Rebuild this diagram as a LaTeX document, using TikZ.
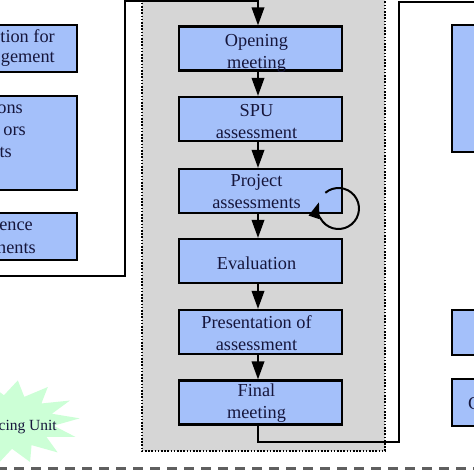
\documentclass[tikz,border=0pt]{standalone}
\usepackage{fontspec}
\setmainfont{Liberation Serif}
\usetikzlibrary{arrows.meta,calc}
\definecolor{boxblue}{RGB}{164,192,250}
\definecolor{panelgrey}{RGB}{214,214,214}
\definecolor{burst}{RGB}{204,255,214}
\definecolor{txt}{RGB}{22,22,60}
\definecolor{dashgrey}{RGB}{95,95,95}
\tikzset{
 stepbox/.style={draw=black, line width=2.2pt, fill=boxblue, minimum width=163pt, minimum height=44pt, inner sep=0pt},
 steptext/.style={inner sep=0pt, align=center, text=txt, font=\fontsize{18.3}{22}\selectfont},
 sidebox/.style={draw=black, line width=2.2pt, fill=boxblue, inner sep=0pt},
 frag/.style={text=txt, font=\fontsize{18.3}{23}\selectfont, inner sep=0pt, anchor=base east},
 flow/.style={line width=2pt, -{Triangle[length=18pt,width=12.5pt]}},
 wire/.style={line width=2pt},
}
\begin{document}
\begin{tikzpicture}[x=1pt,y=-1pt]
\useasboundingbox (0,0) rectangle (474,474);
\clip (0,0) rectangle (474,474);
\fill[white] (0,0) rectangle (474,474);
% grey panel
\path[fill=panelgrey, draw=black, line width=1.8pt, dash pattern=on 1.6pt off 1.6pt] (142,-10) rectangle (385,451);
% dashed separator
\draw[dashgrey, line width=3pt, dash pattern=on 10pt off 7pt] (-3,468) -- (480,468);
% starburst
\fill[burst] plot[samples at={0,...,27}] ({8+72*(1-0.36*mod(\x,2))*cos(\x*360/28+5)}, {422-42*(1-0.36*mod(\x,2))*sin(\x*360/28+5)}) -- cycle;
\node[frag, font=\fontsize{15.5}{19}\selectfont] (burstlbl) at (57,430) {cing Unit};
% left boxes
\node[sidebox, minimum width=87pt, minimum height=47pt] (l1) at (33.5,48.5) {};
\node[sidebox, minimum width=87pt, minimum height=94pt] (l2) at (33.5,143) {};
\node[sidebox, minimum width=87pt, minimum height=47pt] (l3) at (33.5,236.5) {};
\node[frag] (l1a) at (55,42) {tion for};
\node[frag] (l1b) at (55,62) {gement};
\node[frag] (l2a) at (23,113) {ons};
\node[frag] (l2b) at (26,135) {ors};
\node[frag] (l2c) at (12,157) {ts};
\node[frag] (l3a) at (33,230) {ence};
\node[frag] (l3b) at (36,253) {nents};
% right boxes
\node[sidebox, minimum width=40pt, minimum height=127pt] (r1) at (472,88.5) {};
\node[sidebox, minimum width=40pt, minimum height=45pt] (r2) at (472,332.5) {};
\node[sidebox, minimum width=40pt, minimum height=47pt] (r3) at (472,402.5) {};
\node[text=txt, font=\fontsize{18.3}{23}\selectfont, inner sep=0pt, anchor=base west] (r3t) at (468,409) {C};
% central steps
\node[stepbox] (open) at (260.5,48.5) {};
\node[stepbox] (spu) at (260.5,119) {};
\node[stepbox] (proj) at (260.5,191) {};
\node[stepbox] (eval) at (260.5,261) {};
\node[stepbox] (pres) at (260.5,332) {};
\node[stepbox] (fin) at (260.5,402.5) {};
\node[steptext] (opent) at ([xshift=-4pt,yshift=-4.5pt]open.center) {Opening\\meeting};
\node[steptext] (sput) at ([xshift=-4pt,yshift=-2.5pt]spu.center) {SPU\\assessment};
\node[steptext] (projt) at ([xshift=-4pt,yshift=-1pt]proj.center) {Project\\assessments};
\node[steptext] (evalt) at ([xshift=-4pt,yshift=-2pt]eval.center) {Evaluation};
\node[steptext] (prest) at ([xshift=-4pt,yshift=-1pt]pres.center) {Presentation of\\assessment};
\node[steptext] (fint) at ([xshift=-4pt,yshift=-1pt]fin.center) {Final\\meeting};
% connectors
\coordinate (lin) at (-5,276);
\coordinate (lcorner) at (125,276);
\coordinate (ltop) at (125,1);
\coordinate (oin) at ([xshift=-2.5pt]open.north);
\draw[flow] (lin) -- (lcorner) -- (ltop) -- (oin |- ltop) -- (oin);
\draw[flow] ([xshift=-2.5pt]open.south) -- ([xshift=-2.5pt]spu.north);
\draw[flow] ([xshift=-2.5pt]spu.south) -- ([xshift=-2.5pt]proj.north);
\draw[flow] ([xshift=-2.5pt]proj.south) -- ([xshift=-2.5pt]eval.north);
\draw[flow] ([xshift=-2.5pt]eval.south) -- ([xshift=-2.5pt]pres.north);
\draw[flow] ([xshift=-2.5pt]pres.south) -- ([xshift=-2.5pt]fin.north);
\coordinate (fout) at ([xshift=-2.5pt]fin.south);
\coordinate (rbot) at (399,442);
\coordinate (rtop) at (399,2);
\coordinate (rout) at (480,2);
\draw[wire] (fout) -- (fout |- rbot) -- (rbot) -- (rtop) -- (rout);
% self loop
\coordinate (loopstart) at (325.3,192.8);
\draw[line width=2pt, -{Triangle[length=16pt,width=11pt]}] (loopstart) arc[start angle=-130, end angle=198, radius=20.5];
\end{tikzpicture}
\end{document}
